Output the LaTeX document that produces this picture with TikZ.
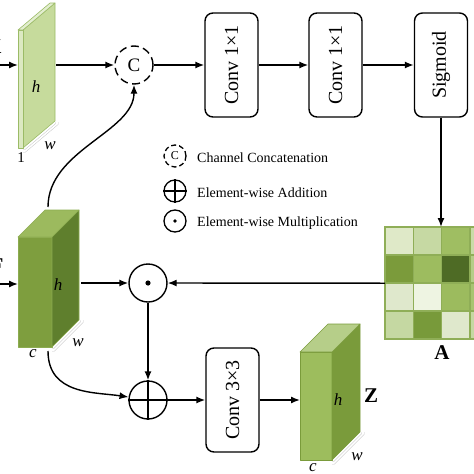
\documentclass[tikz,border=0pt]{standalone}
\usepackage{fontspec}
\setmainfont{Liberation Serif}
\usetikzlibrary{arrows.meta}
\definecolor{xside}{HTML}{C6DB9C}
\definecolor{xfront}{HTML}{DCE9C2}
\definecolor{xtop}{HTML}{E3EED0}
\definecolor{xedge}{HTML}{9BBB66}
\definecolor{ffront}{HTML}{7E9E3E}
\definecolor{fside}{HTML}{5F7F2D}
\definecolor{ftop}{HTML}{9CBA5E}
\definecolor{fedge}{HTML}{8CAC50}
\definecolor{zfront}{HTML}{9DBD5D}
\definecolor{zside}{HTML}{7A9B3B}
\definecolor{ztop}{HTML}{B6CE89}
\definecolor{gridc}{HTML}{8FAE57}
\definecolor{m00}{HTML}{DFE9C8}
\definecolor{m01}{HTML}{C6D9A3}
\definecolor{m02}{HTML}{9FBE62}
\definecolor{m03}{HTML}{C9DBA8}
\definecolor{m10}{HTML}{7B9B3B}
\definecolor{m11}{HTML}{9DBC5F}
\definecolor{m12}{HTML}{4E6B25}
\definecolor{m13}{HTML}{B5CD88}
\definecolor{m20}{HTML}{DFE8CC}
\definecolor{m21}{HTML}{EEF4E2}
\definecolor{m22}{HTML}{9CBB5E}
\definecolor{m23}{HTML}{A8C472}
\definecolor{m30}{HTML}{C5D8A2}
\definecolor{m31}{HTML}{789A3A}
\definecolor{m32}{HTML}{DFE8CC}
\definecolor{m33}{HTML}{C5D8A2}
\begin{document}
\begin{tikzpicture}[x=1pt,y=-1pt,
  arr/.style={line width=1.4pt, -{Latex[length=9pt,width=7pt]}},
  conn/.style={line width=1.4pt},
  opbox/.style={draw, line width=1.4pt, rounded corners=8pt, rotate=90, minimum width=104pt, minimum height=53pt, inner sep=0pt, font=\fontsize{20}{24}\selectfont},
  opcirc/.style={circle, draw, line width=1.4pt, minimum size=38pt, inner sep=0pt},
  lgcirc/.style={circle, draw, line width=1.3pt, minimum size=22pt, inner sep=0pt},
  lgtext/.style={anchor=base west, inner sep=0pt, font=\fontsize{14}{16}\selectfont},
  dimlbl/.style={inner sep=0pt, font=\itshape\fontsize{17}{20}\selectfont},
  bigl/.style={inner sep=0pt, font=\bfseries\fontsize{21}{24}\selectfont},
  bracket/.style={draw=gray!45, line width=0.5pt, double=white, double distance=1.6pt},
  faceedge/.style={draw=#1, line width=0.6pt, line join=round}
]
\useasboundingbox (0,0) rectangle (474,474);

% ---------- X slab ----------
\fill[xside, faceedge=xedge] (23,30) -- (55,3) -- (55,121) -- (23,148) -- cycle;
\fill[xfront, faceedge=xedge] (18,30) -- (23,30) -- (23,148) -- (18,148) -- cycle;
\fill[xtop, faceedge=xedge] (18,30) -- (50,3) -- (55,3) -- (23,30) -- cycle;
\draw[bracket] (23,151) -- (25,151) -- (57,124) -- (57,122);
\node[dimlbl] (xh) at (36,87) {h};
\node[inner sep=0pt, font=\fontsize{15}{18}\selectfont] (x1) at (21,158) {1};
\node[dimlbl] (xw) at (50,146) {w};
\node[bigl] (Xl) at (-6,47) {X};
\coordinate (Xin) at (-2,65);
\coordinate (Xout) at (56,65);
\coordinate (Xleft) at (18,65);

% ---------- F box ----------
\fill[ffront, faceedge=fedge] (18,237) -- (52,237) -- (52,347) -- (18,347) -- cycle;
\fill[fside, faceedge=fedge] (52,237) -- (79,210) -- (79,320) -- (52,347) -- cycle;
\fill[ftop, faceedge=fedge] (18,237) -- (45,210) -- (79,210) -- (52,237) -- cycle;
\draw[bracket] (52,350) -- (54,350) -- (82,322) -- (82,320);
\node[dimlbl] (fh) at (58,285) {h};
\node[dimlbl] (fc) at (33,354) {c};
\node[dimlbl] (fw) at (78,343) {w};
\node[bigl] (Fl) at (-3,266) {F};
\coordinate (Fin) at (-2,284);
\coordinate (Fleft) at (18,284);
\coordinate (Fout) at (81,283);
\coordinate (Ftop) at (48,207);
\coordinate (Fbot) at (48,351);

% ---------- Z box ----------
\fill[zfront, faceedge=zside] (300,352) -- (332,352) -- (332,460) -- (300,460) -- cycle;
\fill[zside, faceedge=zside] (332,352) -- (360,324) -- (360,432) -- (332,460) -- cycle;
\fill[ztop, faceedge=zside] (300,352) -- (328,324) -- (360,324) -- (332,352) -- cycle;
\draw[bracket] (332,463) -- (334,463) -- (363,434) -- (363,432);
\node[inner sep=0pt, minimum width=32pt, minimum height=108pt, anchor=north west] (Zf) at (300,352) {};
\node[dimlbl] (zh) at (338,400) {h};
\node[dimlbl] (zc) at (313,468) {c};
\node[dimlbl] (zw) at (357,457) {w};
\node[bigl] (Zl) at (371,396) {Z};

% ---------- attention matrix A ----------
\node[inner sep=0pt, minimum width=113pt, minimum height=112pt, anchor=north west] (A) at (385,227) {};
\foreach \r in {0,1,2,3}{
  \foreach \c in {0,1,2,3}{
    \fill[m\r\c] (385+\c*28.25,227+\r*28) rectangle ++(28.25,28);
  }
}
\foreach \r in {0,1,2,3}{
  \foreach \c in {0,1,2,3}{
    \draw[gridc, line width=1.5pt] (385+\c*28.25,227+\r*28) rectangle ++(28.25,28);
  }
}
\node[bigl] (Al) at (442,353) {A};

% ---------- operators ----------
\node[opcirc, dash pattern=on 8pt off 4.5pt] (ccat) at (134,65) {\fontsize{19}{22}\selectfont C};
\node[opbox] (c1) at (231.5,65) {Conv 1×1};
\node[opbox] (c2) at (335.5,65) {Conv 1×1};
\node[opbox] (sig) at (441,65) {Sigmoid};
\node[opcirc] (odot) at (148,283) {};
\fill (odot.center) circle[radius=2.6];
\node[opcirc] (oplus) at (148,400) {};
\draw[conn] (oplus.north) -- (oplus.south) (oplus.west) -- (oplus.east);
\node[opbox] (c3) at (232.5,400) {Conv 3×3};

% ---------- connectors ----------
\draw[arr] (Xin) -- (Xleft);
\draw[arr] (Xout) -- (ccat);
\draw[arr] (ccat) -- (c1);
\draw[arr] (c1) -- (c2);
\draw[arr] (c2) -- (sig);
\draw[arr] (sig) -- (sig |- A.north);
\draw[arr] (Ftop) .. controls (48,150) and (134,132) .. (ccat);
\draw[arr] (Fin) -- (Fleft);
\draw[arr] (Fout) -- (odot);
\draw[arr] (A.west) -- (odot);
\draw[arr] (odot) -- (oplus);
\draw[arr] (Fbot) .. controls (48,395) and (95,392) .. (oplus);
\draw[arr] (oplus) -- (c3);
\draw[arr] (c3) -- (c3 -| Zf.west);

% ---------- legend ----------
\node[lgcirc, dash pattern=on 5pt off 3pt] (lc) at (175,156) {\fontsize{12}{14}\selectfont C};
\node[lgtext] (lct) at (197,162) {Channel Concatenation};
\node[lgcirc] (lp) at (175,191) {};
\draw[line width=1.3pt] (lp.north) -- (lp.south) (lp.west) -- (lp.east);
\node[lgtext] (lpt) at (197,197) {Element-wise Addition};
\node[lgcirc] (lm) at (175,221) {};
\fill (lm.center) circle[radius=1.8];
\node[lgtext] (lmt) at (197,226) {Element-wise Multiplication};
\end{tikzpicture}
\end{document}
